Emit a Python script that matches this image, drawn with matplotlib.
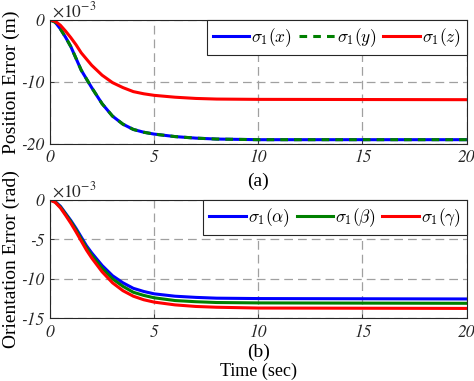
import matplotlib
matplotlib.use("Agg")
import matplotlib.pyplot as plt

plt.rcParams['font.family'] = ['Liberation Serif', 'DejaVu Serif']
plt.rcParams['mathtext.fontset'] = 'cm'
plt.rcParams['axes.unicode_minus'] = False

# time samples (sec)
t = [0, 0.25, 0.5, 0.75, 1, 1.25, 1.5, 1.75, 2, 2.5, 3, 3.5, 4, 4.5, 5, 6, 7, 8, 10, 20]

# position errors (x1e-3 m)
pos_x = [0, -0.35, -1.45, -2.8, -4.3, -6.2, -8.1, -9.5, -10.9, -13.5, -15.5, -16.8, -17.65, -18.1, -18.4, -18.8, -19.05, -19.2, -19.3, -19.3]
pos_y = [0, -0.35, -1.45, -2.8, -4.3, -6.2, -8.1, -9.5, -10.9, -13.5, -15.5, -16.8, -17.65, -18.1, -18.4, -18.8, -19.05, -19.2, -19.3, -19.3]
pos_z = [0, -0.2, -0.85, -1.8, -2.85, -4.0, -5.3, -6.3, -7.3, -8.9, -10.1, -10.9, -11.55, -11.9, -12.15, -12.45, -12.65, -12.75, -12.8, -12.85]

# orientation errors (x1e-3 rad)
ori_a = [0, -0.2, -0.8, -1.7, -2.6, -3.6, -4.7, -5.8, -6.7, -8.3, -9.6, -10.5, -11.2, -11.6, -11.9, -12.2, -12.35, -12.45, -12.5, -12.55]
ori_b = [0, -0.25, -0.9, -1.8, -2.75, -3.8, -4.95, -6.05, -7.0, -8.65, -10.0, -10.95, -11.7, -12.1, -12.4, -12.75, -12.9, -13.0, -13.05, -13.1]
ori_g = [0, -0.3, -1.0, -1.95, -2.95, -4.05, -5.2, -6.35, -7.35, -9.1, -10.5, -11.5, -12.2, -12.65, -12.95, -13.3, -13.5, -13.6, -13.7, -13.75]

xticks = [0, 5, 10, 15, 20]
yticks_top = [0, -10, -20]
yticks_bot = [0, -5, -10, -15]

fig = plt.figure(figsize=(4.74, 3.81), dpi=100)
ax1 = fig.add_axes([0.1055, 0.622, 0.879, 0.3255])
ax2 = fig.add_axes([0.1055, 0.1646, 0.879, 0.3105])

lw = 2.2
ax1.plot(t, pos_x, color='#0000ff', lw=lw, label=r'$\sigma_1(x)$')
ax1.plot(t, pos_y, color='#008000', lw=lw, ls=(0, (2.5, 2.0)), label=r'$\sigma_1(y)$')
ax1.plot(t, pos_z, color='#ff0000', lw=lw, label=r'$\sigma_1(z)$')

ax2.plot(t, ori_a, color='#0000ff', lw=lw, label=r'$\sigma_1(\alpha)$')
ax2.plot(t, ori_b, color='#008000', lw=lw, label=r'$\sigma_1(\beta)$')
ax2.plot(t, ori_g, color='#ff0000', lw=lw, label=r'$\sigma_1(\gamma)$')

tickfont = dict(family='STIXGeneral', style='italic', size=12.5)

for ax, yt, ylim, ylabel in [(ax1, yticks_top, (-20, 0), 'Position Error (m)'),
                             (ax2, yticks_bot, (-15, 0), 'Orientation Error (rad)')]:
    ax.set_xlim(0, 20)
    ax.set_ylim(*ylim)
    ax.set_xticks(xticks)
    ax.set_yticks(yt)
    ax.set_xticklabels([str(v) for v in xticks], fontdict=tickfont)
    ax.set_yticklabels([str(v) for v in yt], fontdict=tickfont)
    ax.tick_params(direction='in', length=3, width=0.6, colors='#262626', pad=4)
    ax.grid(True, ls=(0, (7, 4)), color='#a0a0a0', lw=0.9)
    for s in ax.spines.values():
        s.set_color('#262626')
        s.set_linewidth(0.8)
    ax.set_ylabel(ylabel, fontsize=14, labelpad=1)
    ax.text(0.005, 0.995, r'$\times\mathit{10}^{\mathit{-3}}$', transform=ax.transAxes,
            fontsize=12.5, ha='left', va='bottom', color='#262626',
            math_fontfamily='stix')
    leg = ax.legend(loc='upper right', ncol=3, fontsize=12.5, borderaxespad=0,
                    handlelength=2.1, handletextpad=0.1, columnspacing=0.4,
                    fancybox=False, framealpha=1, edgecolor='#262626',
                    borderpad=0.35)
    leg.get_frame().set_linewidth(0.8)

fig.text(0.545, 0.525, '(a)', ha='center', va='center', fontsize=14)
fig.text(0.545, 0.076, '(b)', ha='center', va='center', fontsize=14)
fig.text(0.545, 0.025, 'Time (sec)', ha='center', va='center', fontsize=13)

fig.savefig('out.png', dpi=100)
